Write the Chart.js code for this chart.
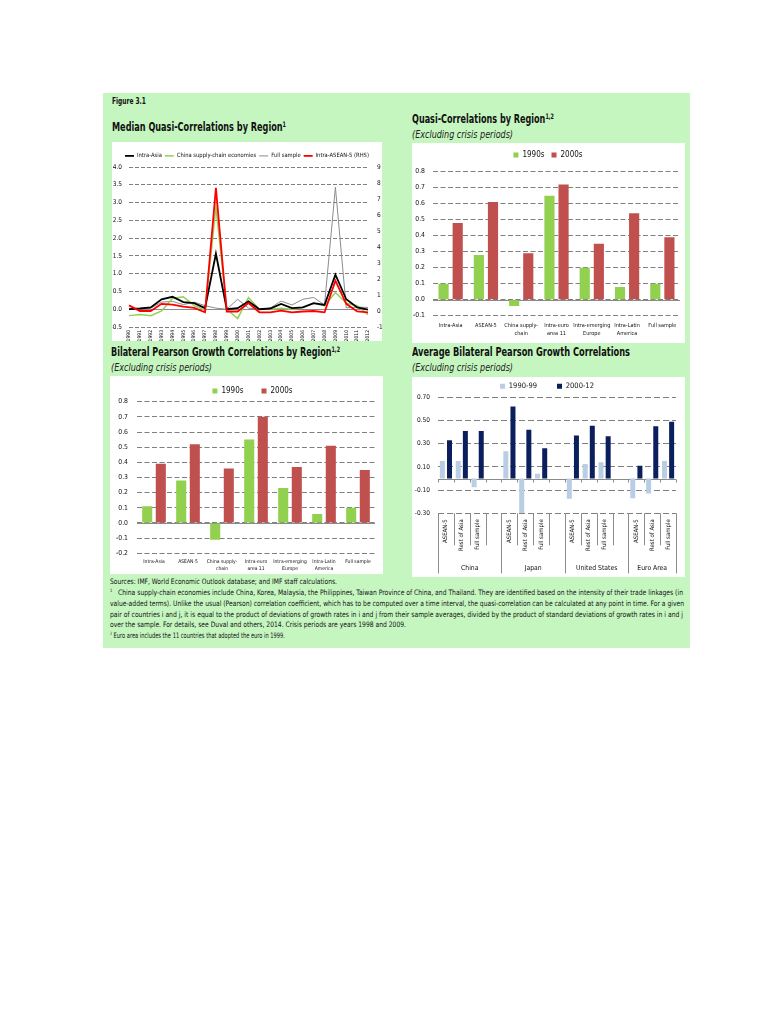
<!DOCTYPE html>
<html><head><meta charset="utf-8">
<script src="https://cdn.jsdelivr.net/npm/chart.js@4.4.0/dist/chart.umd.min.js"></script>
<style>
html,body{margin:0;padding:0;background:#fff;width:768px;height:1024px;overflow:hidden}
#panel{position:absolute;left:103px;top:93px;width:587px;height:555px;background:#c6f6c0}
.box{position:absolute;background:#fff}
.box canvas{display:block}
.t{position:absolute;font-family:"Liberation Sans Narrow","Arial Narrow","DejaVu Sans Condensed","Liberation Sans",sans-serif;color:#111;white-space:nowrap;line-height:1;transform-origin:0 0}
.h{font-weight:bold;font-size:12.5px}
.s{font-style:italic;font-size:10px;color:#222}
.fn{font-size:7.5px;color:#111}
sup{font-size:0.6em;vertical-align:0.6em;line-height:0}
</style>
</head><body>
<div id="panel"></div>
<div class="t" style="left:112px;top:97px;font-size:9px;font-weight:bold" data-w="34">Figure 3.1</div>
<div class="t h" style="left:112px;top:120.5px" data-w="174">Median Quasi-Correlations by Region<sup>1</sup></div>
<div class="t h" style="left:412px;top:113px" data-w="142">Quasi-Correlations by Region<sup>1,2</sup></div>
<div class="t s" style="left:412px;top:130px" data-w="101">(Excluding crisis periods)</div>
<div class="t h" style="left:111px;top:345.5px" data-w="229">Bilateral Pearson Growth Correlations by Region<sup>1,2</sup></div>
<div class="t s" style="left:111px;top:363px" data-w="101">(Excluding crisis periods)</div>
<div class="t h" style="left:412px;top:346px" data-w="218">Average Bilateral Pearson Growth Correlations</div>
<div class="t s" style="left:412px;top:363px" data-w="101">(Excluding crisis periods)</div>

<div class="box" style="left:112px;top:142px;width:270px;height:199px"><canvas id="cA" width="270" height="199"></canvas></div>
<div class="box" style="left:412px;top:143px;width:273px;height:200px"><canvas id="cB" width="273" height="200"></canvas></div>
<div class="box" style="left:110px;top:376px;width:273px;height:198px"><canvas id="cC" width="273" height="198"></canvas></div>
<div class="box" style="left:412px;top:377px;width:273px;height:200px"><canvas id="cD" width="273" height="200"></canvas></div>

<div class="t fn" style="left:110px;top:578px" data-w="227">Sources: IMF, World Economic Outlook database; and IMF staff calculations.</div>
<div class="t fn" style="left:110px;top:589px" data-w="573"><sup>1</sup>&nbsp;&nbsp; China supply-chain economies include China, Korea, Malaysia, the Philippines, Taiwan Province of China, and Thailand. They are identified based on the intensity of their trade linkages (in</div>
<div class="t fn" style="left:110px;top:600px" data-w="574">value-added terms). Unlike the usual (Pearson) correlation coefficient, which has to be computed over a time interval, the quasi-correlation can be calculated at any point in time. For a given</div>
<div class="t fn" style="left:110px;top:610.5px" data-w="573">pair of countries i and j, it is equal to the product of deviations of growth rates in i and j from their sample averages, divided by the product of standard deviations of growth rates in i and j</div>
<div class="t fn" style="left:110px;top:621px" data-w="296">over the sample. For details, see Duval and others, 2014. Crisis periods are years 1998 and 2009.</div>
<div class="t fn" style="left:110px;top:632px" data-w="175"><sup>2</sup> Euro area includes the 11 countries that adopted the euro in 1999.</div>

<script>
// ---------- DATA ----------
const years = ['1990','1991','1992','1993','1994','1995','1996','1997','1998','1999','2000','2001','2002','2003','2004','2005','2006','2007','2008','2009','2010','2011','2012'];
const intraAsia        = [0.00,0.02,0.05,0.28,0.35,0.20,0.17,0.03,1.56,0.00,0.03,0.22,0.00,0.02,0.15,0.03,0.05,0.17,0.12,0.97,0.28,0.05,-0.01];
const chinaSupplyChain = [-0.18,-0.15,-0.18,-0.05,0.30,0.35,0.10,-0.03,2.88,0.00,-0.26,0.33,0.00,0.00,0.03,0.00,0.05,0.17,0.10,0.47,0.17,0.10,-0.15];
const fullSample       = [0.00,0.00,0.03,0.20,0.22,0.13,0.20,0.10,0.03,0.00,0.28,0.03,0.00,0.03,0.23,0.12,0.28,0.33,0.12,3.43,0.04,0.06,0.05];
const intraAsean5RHS   = [0.35,0.00,0.00,0.45,0.40,0.28,0.20,-0.08,7.70,-0.03,-0.03,0.50,-0.08,-0.08,0.02,-0.08,-0.03,0.00,-0.08,1.90,0.45,-0.03,-0.08];

const regionLabels = ['Intra-Asia','ASEAN-5',['China supply-','chain'],['Intra-euro','area 11'],['Intra-emerging','Europe'],['Intra-Latin','America'],'Full sample'];
const quasi1990s = [0.10,0.28,-0.04,0.65,0.20,0.08,0.10];
const quasi2000s = [0.48,0.61,0.29,0.72,0.35,0.54,0.39];
const pearson1990s = [0.11,0.28,-0.11,0.55,0.23,0.06,0.10];
const pearson2000s = [0.39,0.52,0.36,0.70,0.37,0.51,0.35];

const avgCategories = ['ASEAN-5','Rest of Asia','Full sample','','ASEAN-5','Rest of Asia','Full sample','','ASEAN-5','Rest of Asia','Full sample','','ASEAN-5','Rest of Asia','Full sample'];
const avgGroups = ['China','Japan','United States','Euro Area'];
const avgGroupBounds = [0,4,8,12,15];
const avg1990_99 = [0.15,0.15,-0.075,null,0.235,-0.30,0.04,null,-0.175,0.125,0.14,null,-0.17,-0.13,0.15];
const avg2000_12 = [0.33,0.41,0.41,null,0.62,0.42,0.26,null,0.37,0.455,0.365,null,0.11,0.45,0.49];

// ---------- HELPERS ----------
const FF = '"Liberation Sans Narrow","Arial Narrow","DejaVu Sans Condensed","Liberation Sans",sans-serif';
Chart.defaults.font.family = FF;
Chart.defaults.color = '#111';
const GRID = '#7f7f7f';

function legendFix(h, dy, dx){
  return { id:'legendFix',
    beforeLayout(chart){ const lg = chart.legend; if(lg && !lg._fx){ const f = lg.fit; lg.fit = function(){ f.call(this); this.height = h; }; lg._fx = true; } },
    afterLayout(chart){ const lg = chart.legend; if(lg){ lg.top += dy; lg.left += (dx||0); lg.right += (dx||0);} }
  };
}
function zeroLine(id){
  return { id:'zeroLine',
    beforeDatasetsDraw(chart){ const s = chart.scales[id]; const y = Math.round(s.getPixelForValue(0))+0.5; const c = chart.ctx; const a = chart.chartArea;
      c.save(); c.strokeStyle = '#8a8a8a'; c.lineWidth = 1; c.setLineDash([]); c.beginPath(); c.moveTo(a.left,y); c.lineTo(a.right,y); c.stroke(); c.restore(); }
  };
}
const sortIdx = (a,b)=>a.datasetIndex-b.datasetIndex;

// ---------- CHART A ----------
new Chart(document.getElementById('cA'), {
  type:'line',
  data:{ labels: years, datasets:[
    {label:'Intra-Asia', data:intraAsia, borderColor:'#000', backgroundColor:'#000', borderWidth:1.8, yAxisID:'y', order:1},
    {label:'China supply-chain economies', data:chinaSupplyChain, borderColor:'#92d050', backgroundColor:'#92d050', borderWidth:1.5, yAxisID:'y', order:2},
    {label:'Full sample', data:fullSample, borderColor:'#8c8c8c', backgroundColor:'#8c8c8c', borderWidth:1, yAxisID:'y', order:3},
    {label:'Intra-ASEAN-5 (RHS)', data:intraAsean5RHS, borderColor:'#ff0000', backgroundColor:'#ff0000', borderWidth:1.8, yAxisID:'y2', order:0}
  ]},
  options:{ responsive:false, animation:false,
    elements:{point:{radius:0}, line:{tension:0}},
    layout:{padding:0},
    plugins:{ tooltip:{enabled:false},
      legend:{ labels:{ usePointStyle:true, pointStyle:'line', pointStyleWidth:9, boxHeight:6, padding:3, font:{size:5.8}, sort:sortIdx } } },
    scales:{
      x:{ grid:{display:false, drawTicks:false}, border:{display:false}, ticks:{autoSkip:false, minRotation:90, maxRotation:90, padding:3, font:{size:5}}, afterFit:s=>{s.height=14;} },
      y:{ min:-0.5, max:4, ticks:{stepSize:0.5, callback:v=>v.toFixed(1), padding:7, font:{size:6.5}}, grid:{color:GRID, drawTicks:false}, border:{display:false, dash:[4,2]}, afterFit:s=>{s.width=17;} },
      y2:{ position:'right', min:-1, max:9, ticks:{stepSize:1, padding:9, font:{size:6.5}}, grid:{display:false, drawTicks:false}, border:{display:false}, afterFit:s=>{s.width=14;} }
    }
  },
  plugins:[legendFix(25, 8, 0), zeroLine('y')]
});

// ---------- CHARTS B & C ----------
function regionBar(id, d1, d2, cfg){
  return new Chart(document.getElementById(id), {
    type:'bar',
    data:{ labels: regionLabels, datasets:[
      {label:'1990s', data:d1, backgroundColor:'#92d050', categoryPercentage:0.8, barPercentage:cfg.bp},
      {label:'2000s', data:d2, backgroundColor:'#c0504d', categoryPercentage:0.8, barPercentage:cfg.bp}
    ]},
    options:{ responsive:false, animation:false,
      layout:{padding:{right:cfg.right, left:0, top:0, bottom:0}},
      plugins:{ tooltip:{enabled:false},
        legend:{ labels:{ boxWidth:5, boxHeight:5, padding:cfg.lp, font:{size:8} } } },
      scales:{
        x:{ grid:{display:false, drawTicks:false}, border:{display:false}, ticks:{autoSkip:false, maxRotation:0, minRotation:0, padding:cfg.xpad, font:{size:cfg.xfs, lineHeight:cfg.xlh}}, afterFit:s=>{s.height=cfg.xh;} },
        y:{ min:cfg.min, max:0.8, ticks:{stepSize:0.1, callback:v=>v.toFixed(1), padding:cfg.ypad, font:{size:6.8}}, grid:{color:GRID, drawTicks:false}, border:{display:false, dash:[5,2.5]}, afterFit:s=>{s.width=cfg.yw;} }
      }
    },
    plugins:[legendFix(cfg.lh, cfg.dy, cfg.dx), zeroLine('y')]
  });
}
regionBar('cB', quasi1990s, quasi2000s, {bp:0.72, right:5, lp:7, xpad:6, xfs:5.5, xlh:1.45, xh:27.3, min:-0.1, ypad:8, yw:21, lh:28.7, dy:1, dx:2});
regionBar('cC', pearson1990s, pearson2000s, {bp:0.74, right:8, lp:18, xpad:5, xfs:5.0, xlh:1.4, xh:20.7, min:-0.2, ypad:9, yw:27, lh:25.7, dy:-7, dx:10});

// ---------- CHART D ----------
const dividers = { id:'dividers',
  afterDraw(chart){
    const y = chart.scales.y, c = chart.ctx, a = chart.chartArea;
    const slot = (a.right - a.left)/avgCategories.length;
    c.save(); c.strokeStyle = '#8c8c8c'; c.lineWidth = 1; c.setLineDash([]);
    const y0 = Math.round(y.getPixelForValue(0))+0.5;
    for(let i=0;i<=avgCategories.length;i++){
      const px = Math.round(a.left + i*slot)+0.5;
      const long = avgGroupBounds.includes(i);
      c.beginPath(); c.moveTo(px, a.bottom); c.lineTo(px, long ? a.bottom+60 : a.bottom+32); c.stroke();
      c.beginPath(); c.moveTo(px, y0); c.lineTo(px, y0+3); c.stroke();
    }
    c.fillStyle = '#111'; c.font = '6.8px ' + FF; c.textAlign = 'center'; c.textBaseline = 'middle';
    for(let g=0; g<avgGroups.length; g++){
      const cx = a.left + (avgGroupBounds[g]+avgGroupBounds[g+1])/2*slot;
      c.fillText(avgGroups[g], cx, a.bottom+54.5);
    }
    c.restore();
  }
};
new Chart(document.getElementById('cD'), {
  type:'bar',
  data:{ labels: avgCategories, datasets:[
    {label:'1990-99', data:avg1990_99, backgroundColor:'#b9cde5', categoryPercentage:0.9, barPercentage:0.7},
    {label:'2000-12', data:avg2000_12, backgroundColor:'#0b1f5c', categoryPercentage:0.9, barPercentage:0.7}
  ]},
  options:{ responsive:false, animation:false,
    layout:{padding:{right:9, left:0, top:0, bottom:0}},
    plugins:{ tooltip:{enabled:false},
      legend:{ labels:{ boxWidth:5, boxHeight:5, padding:20, font:{size:7.5} } } },
    scales:{
      x:{ grid:{display:false, drawTicks:false}, border:{display:false}, ticks:{autoSkip:false, minRotation:90, maxRotation:90, padding:6, font:{size:6}}, afterFit:s=>{s.height=63.7;} },
      y:{ min:-0.3, max:0.7, ticks:{stepSize:0.2, callback:v=>v.toFixed(2), padding:8, font:{size:6.5}}, grid:{color:GRID, drawTicks:false}, border:{display:false, dash:[6,3]}, afterFit:s=>{s.width=26;} }
    }
  },
  plugins:[legendFix(20.3, -14.5, 3), zeroLine('y'), dividers]
});

// ---------- text fitting ----------
document.querySelectorAll('[data-w]').forEach(el=>{
  const w = +el.dataset.w; const nat = el.getBoundingClientRect().width;
  if(nat>0) el.style.transform = 'scaleX(' + (w/nat) + ')';
});
</script>
</body></html>
